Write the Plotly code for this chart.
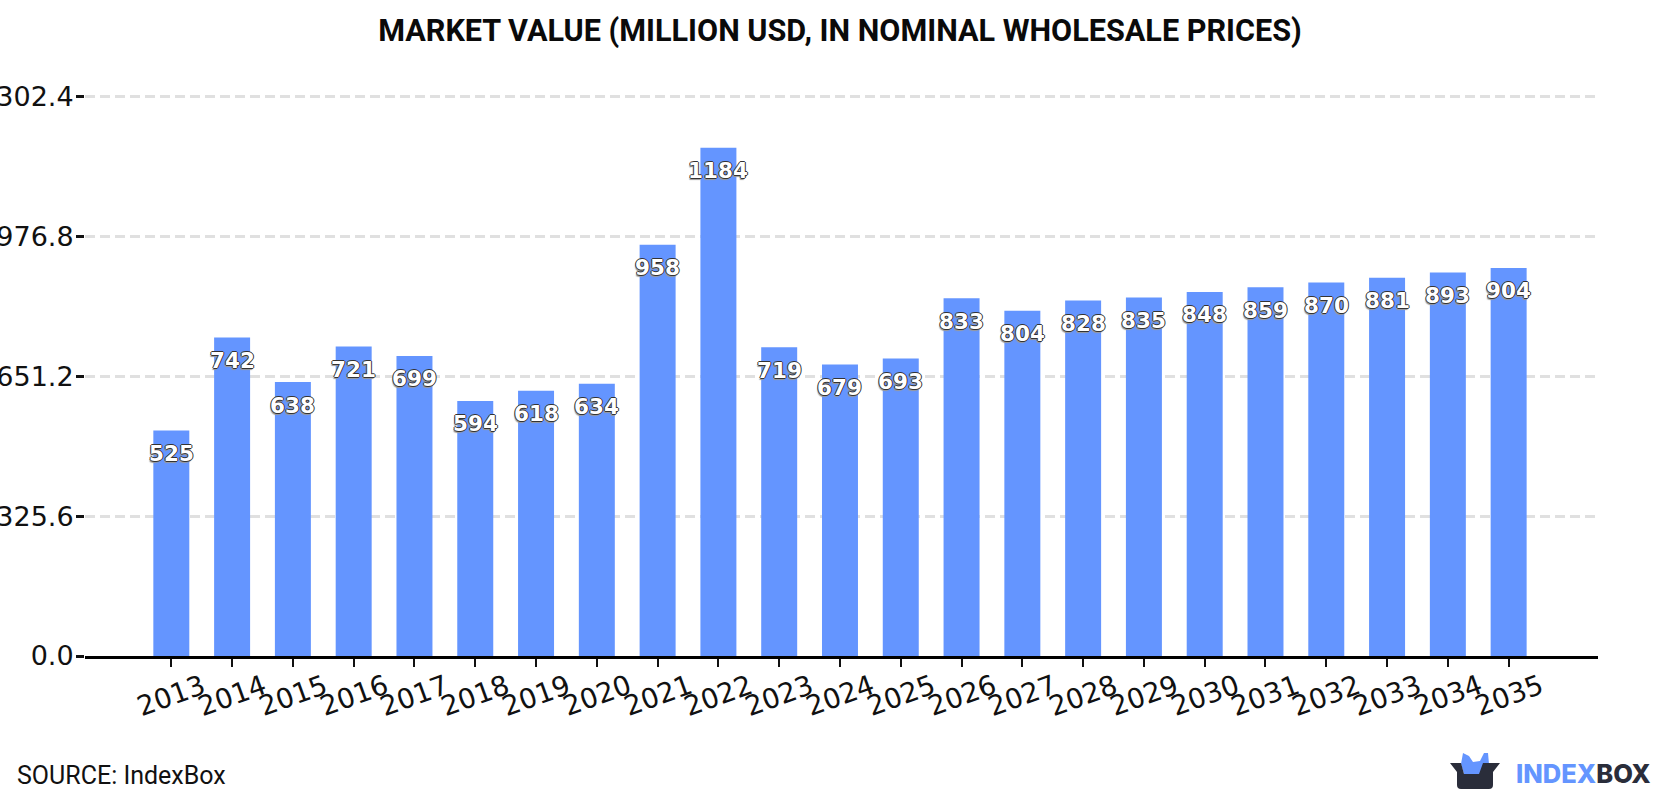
import base64
import plotly.graph_objects as go

years = [str(y) for y in range(2013, 2036)]
values = [525, 742, 638, 721, 699, 594, 618, 634, 958, 1184, 719, 679, 693,
          833, 804, 828, 835, 848, 859, 870, 881, 893, 904]
y_ticks = [0.0, 325.6, 651.2, 976.8, 1302.4]
y_tick_labels = ["0.0", "325.6", "651.2", "976.8", "1302.4"]

TITLE = "MARKET VALUE (MILLION USD, IN NOMINAL WHOLESALE PRICES)"
BLUE = "#6495ff"
DARK = "#2a2d3a"

W, H = 1680, 800
M_L, M_R, M_T, M_B = 85, 82, 95, 144
PW, PH = W - M_L - M_R, H - M_T - M_B
Y_MAX = 1306.7


def paper_x(px):
    return (px - M_L) / PW


def paper_y(px):
    return (H - M_B - px) / PH


# White value labels with a thin dark outline and a soft grey drop shadow
LABEL_SHADOW = ("-1px 0 0 #333,1px 0 0 #333,0 -1px 0 #333,0 1px 0 #333,"
                "-1px 2px 1px #999")

logo_svg = f"""<svg xmlns='http://www.w3.org/2000/svg' width='50' height='38' viewBox='0 0 50 38'>
<path d='M11 12 L13 1 L19 4 L23 10 L30 9 L34 1 L38 1 L39 12 L36 22 L14 22 Z' fill='{BLUE}'/>
<path d='M0 11 L11 11 L14 22 L29 22 L33 11 L50 11 L43 20 L43 33 Q43 37 39 37 L11 37 Q7 37 7 33 L7 20 Z' fill='{DARK}'/>
</svg>"""
logo_uri = "data:image/svg+xml;base64," + base64.b64encode(logo_svg.encode()).decode()

fig = go.Figure(go.Bar(x=years, y=values, width=0.592, marker_color=BLUE,
                       marker_line_width=0, hoverinfo="x+y"))

annotations = []
# Value labels sit just below the top of each bar
for i, v in enumerate(values):
    annotations.append(dict(
        x=i, y=v, xref="x", yref="y", text=str(v), showarrow=False,
        xanchor="center", yanchor="middle", yshift=-23,
        font=dict(family="DejaVu Sans", size=21.5, color="white", weight=700,
                  shadow=LABEL_SHADOW)))
# Slanted year labels centred under their tick marks
for i, yr in enumerate(years):
    annotations.append(dict(
        x=i, y=0, xref="x", yref="paper", text=yr, showarrow=False,
        xanchor="center", yanchor="middle", yshift=-39, textangle=-20,
        font=dict(family="DejaVu Sans", size=27.5, color="#111")))
annotations.append(dict(
    x=paper_x(14.5), y=paper_y(775), xref="paper", yref="paper",
    text="SOURCE: IndexBox", showarrow=False, xanchor="left", yanchor="middle",
    font=dict(family="Roboto", size=25, color="#111")))
annotations.append(dict(
    x=paper_x(1514), y=paper_y(773), xref="paper", yref="paper",
    text=f"<span style='color:{BLUE}'>INDEX</span><span style='color:{DARK}'>BOX</span>",
    showarrow=False, xanchor="left", yanchor="middle",
    font=dict(family="Inter", size=25.5, weight=800)))

fig.update_layout(
    autosize=True,
    margin=dict(l=M_L, r=M_R, t=M_T, b=M_B, autoexpand=False),
    paper_bgcolor="white", plot_bgcolor="white",
    showlegend=False,
    title=dict(text=TITLE, x=840 / W, xanchor="center",
               y=1 - 30.5 / H, yanchor="middle",
               font=dict(family="Roboto", size=30.6, color="#0a0a0a", weight=700)),
    xaxis=dict(type="category", range=[-1.42, 23.47], categoryorder="array",
               categoryarray=years, showgrid=False, showticklabels=False,
               ticks="outside", ticklen=8, tickwidth=2, tickcolor="#111",
               showline=True, linecolor="#000", linewidth=3, zeroline=False),
    yaxis=dict(range=[0, Y_MAX], tickmode="array", tickvals=y_ticks,
               ticktext=y_tick_labels, ticks="outside", ticklen=8, tickwidth=3,
               tickcolor="#111", showline=False, zeroline=False,
               showgrid=True, gridcolor="#e0e0e0", gridwidth=2.5,
               griddash="10px,5px", automargin=False, ticklabelstandoff=-3,
               tickfont=dict(family="DejaVu Sans", size=27, color="#111")),
    annotations=annotations,
    images=[dict(source=logo_uri, xref="paper", yref="paper",
                 x=paper_x(1450), y=paper_y(752),
                 sizex=50 / PW, sizey=38 / PH, xanchor="left", yanchor="top",
                 sizing="stretch", layer="above")],
)

fig.write_html("out.html", config={"displayModeBar": False})
